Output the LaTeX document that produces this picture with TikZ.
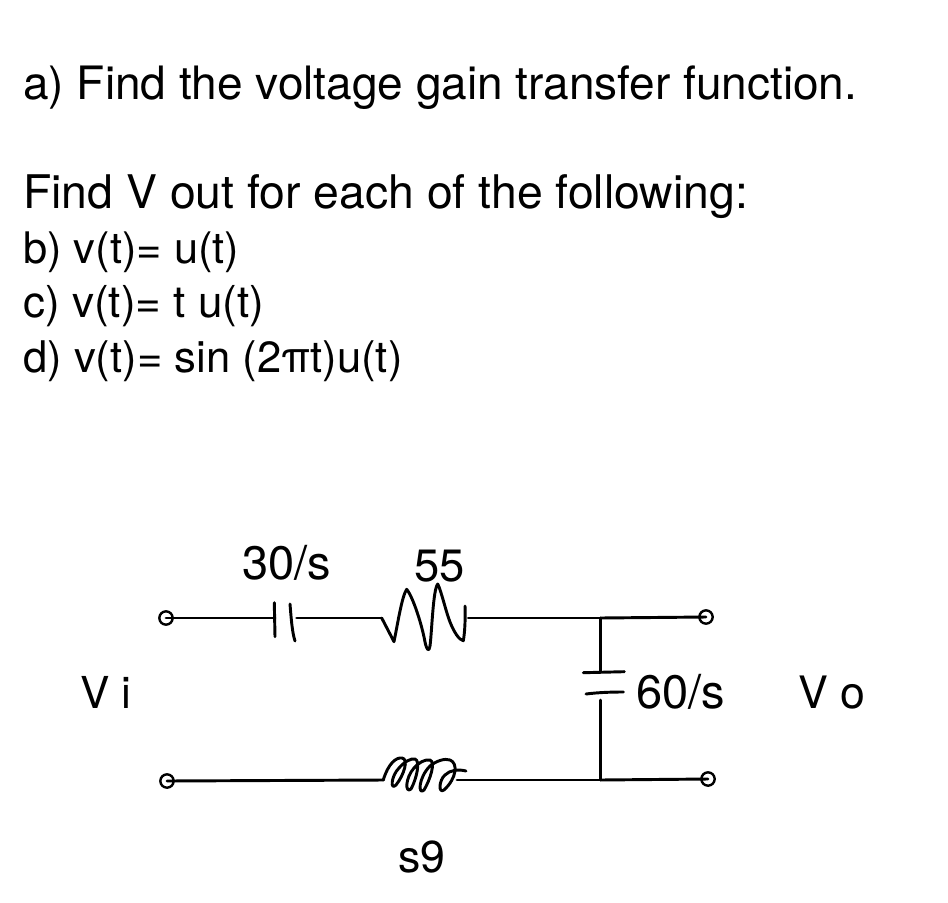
\documentclass[tikz,border=0pt]{standalone}
\usepackage{fontspec}
\setmainfont{TeX Gyre Heros}
\tikzset{
  txt/.style={inner sep=0pt,anchor=base west,font=\fontsize{#1pt}{36pt}\selectfont,text=black},
  wire/.style={line width=2.2pt,black,line cap=round,line join=round},
  term/.style={circle,draw=black,line width=1.8pt,inner sep=0pt,minimum size=10pt,fill=none}
}
\begin{document}
\begin{tikzpicture}[x=0.75pt,y=-0.75pt]
\useasboundingbox (0,0) rectangle (948,902);
\node[txt=34.5] (ta) at (23,100) {a) Find the voltage gain transfer function.};
\node[txt=34.75] (tb) at (23,209) {Find V out for each of the following:};
\node[txt=32.6] (tc) at (23,263) {b) v(t)= u(t)};
\node[txt=33] (td) at (23,317.5) {c) v(t)= t u(t)};
\node[txt=32.7] (te) at (23,372.5) {d) v(t)= sin (2πt)u(t)};
\node[txt=35.2] (l30) at (242,579) {30/s};
\node[txt=34] (l55) at (414,581) {55};
\node[txt=35.2] (l60) at (636,708) {60/s};
\node[txt=33] (lvi) at (80,708) {V i};
\node[txt=33.5] (lvo) at (798,708) {V o};
\node[txt=33.5] (ls9) at (398,872) {s9};
\node[term] (t1) at (166,618) {};
\node[term] (t2) at (706,617) {};
\node[term] (t3) at (167,781) {};
\node[term] (t4) at (708,779) {};
\coordinate (c1a) at (275,618);
\coordinate (c1b) at (296.7,618);
\coordinate (r1a) at (381.7,618);
\coordinate (r1b) at (468.3,618);
\coordinate (jt) at (600.5,618);
\coordinate (c2a) at (600.5,672);
\coordinate (c2b) at (600.5,700);
\coordinate (jb) at (600.5,780);
\coordinate (l1a) at (383.3,780);
\coordinate (l1b) at (457,780);
\draw[wire] (t1.center) -- (c1a);
\draw[wire] (c1b) -- (r1a);
\draw[wire] (r1b) -- (jt);
\draw[wire] (jt) -- (t2.center);
\draw[wire] (jt) -- (c2a);
\draw[wire] (c2b) -- (jb);
\draw[wire] (t3.center) -- (l1a);
\draw[wire] (l1b) -- (jb);
\draw[wire] (jb) -- (t4.center);
% series capacitor
\draw[wire] (274.3,602.7) -- (275,636.7);
\draw[wire] (290,604) .. controls (291,616) and (292,632) .. (295,641);
% shunt capacitor
\draw[wire] (583.3,672.7) -- (624.3,671.7);
\draw[wire] (586,694) .. controls (598,692.5) and (610,692) .. (623.3,692);
% resistor
\draw[wire] (r1a) -- (394,641.7) .. controls (398,622) and (402,596) .. (406.7,589.3)
  .. controls (413,597) and (422,625) .. (425,642)
  .. controls (427,651) and (429,652) .. (430,646)
  .. controls (432,630) and (433,590) .. (437.7,584)
  .. controls (441,590) and (446,612) .. (450,622)
  .. controls (454,632) and (459,640) .. (463.3,640.7)
  .. controls (465,632) and (465.5,615) .. (465,606);
% inductor
\draw[wire] (l1a) .. controls (388,764) and (396,757) .. (402,758)
  .. controls (409,759) and (404,775) .. (396,785)
  .. controls (390,791) and (391,776) .. (399,768)
  .. controls (404,762) and (411,758) .. (415,759)
  .. controls (421,761) and (416,780) .. (411,789)
  .. controls (405,794) and (405,778) .. (414,768)
  .. controls (418,763) and (425,759) .. (430,760)
  .. controls (436,762) and (430,780) .. (424,790)
  .. controls (418,796) and (418,778) .. (430,766)
  .. controls (436,761) and (445,758) .. (450,760)
  .. controls (458,763) and (457,778) .. (444,790)
  .. controls (438,794) and (439,780) .. (445,775)
  .. controls (450,770) and (458,769) .. (466,771);
\end{tikzpicture}
\end{document}
